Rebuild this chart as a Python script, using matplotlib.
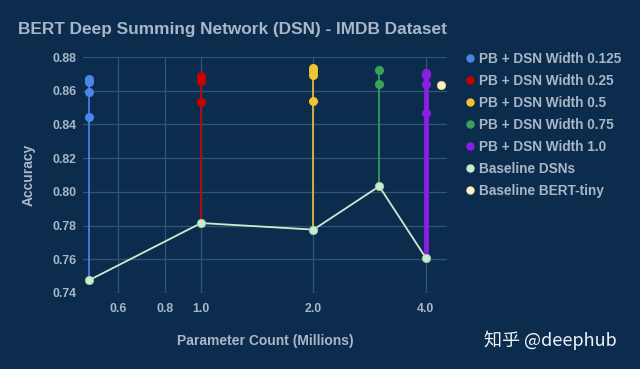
import matplotlib
matplotlib.use("Agg")
import matplotlib.pyplot as plt
from matplotlib.lines import Line2D

# ---- data ----
series_names = ["PB + DSN Width 0.125", "PB + DSN Width 0.25", "PB + DSN Width 0.5",
                "PB + DSN Width 0.75", "PB + DSN Width 1.0"]
series_params = [0.5, 1.0, 2.0, 3.0, 4.0]
pb_acc = [
    [0.8671, 0.8661, 0.8649, 0.8594, 0.8444],
    [0.8689, 0.8675, 0.8655, 0.8531],
    [0.8733, 0.8715, 0.8695, 0.8541],
    [0.8720, 0.8642],
    [0.8705, 0.8691, 0.8640, 0.8465],
]
baseline_params = [0.5, 1.0, 2.0, 3.0, 4.0]
baseline_acc = [0.7475, 0.7815, 0.7776, 0.8033, 0.7608]
bert_tiny_param = [4.4]
bert_tiny_acc = [0.8632]
x_ticks = [0.6, 0.8, 1.0, 2.0, 4.0]
x_tick_labels = ["0.6", "0.8", "1.0", "2.0", "4.0"]
y_ticks = [0.74, 0.76, 0.78, 0.80, 0.82, 0.84, 0.86, 0.88]

colors = ["#4a86e8", "#cc0000", "#f1c232", "#3aa35a", "#8a1ee6"]
line_widths = [1.2, 1.2, 1.2, 1.2, 3.5]
base_color = "#c9ecd0"
tiny_color = "#fdf0c4"
bg = "#0c2c4d"
text_c = "#a8b7c8"
grid_c = "#2f5575"

plt.rcParams['font.family'] = ['Liberation Sans', 'DejaVu Sans']

fig = plt.figure(figsize=(6.4, 3.69), dpi=100, facecolor=bg)
ax = fig.add_axes([0.130, 0.206, 0.568, 0.6395])
ax.set_facecolor(bg)
ax.set_xscale('log')
ax.set_xlim(0.483, 4.55)
ax.set_ylim(0.74, 0.88)

for s in ax.spines.values():
    s.set_visible(False)

ax.set_xticks(x_ticks)
ax.set_xticklabels(x_tick_labels)
ax.xaxis.set_minor_locator(matplotlib.ticker.NullLocator())
ax.set_yticks(y_ticks)
ax.set_yticklabels([f"{v:.2f}" for v in y_ticks])
ax.tick_params(axis='both', length=0, colors=text_c, labelsize=8.8)
ax.tick_params(axis='x', pad=7)
ax.tick_params(axis='y', pad=5)
for lbl in ax.get_xticklabels() + ax.get_yticklabels():
    lbl.set_fontweight('bold')
ax.grid(True, color=grid_c, linewidth=0.9)
ax.set_axisbelow(True)

# series: vertical line from baseline to points
for name, xp, accs, c, lw, b in zip(series_names, series_params, pb_acc, colors, line_widths, baseline_acc):
    ax.plot([xp, xp], [b, max(accs)], color=c, lw=lw, zorder=3)
    ax.plot([xp] * len(accs), accs, 'o', color=c, ms=5.5, zorder=4)

ax.plot(baseline_params, baseline_acc, '-', color=base_color, lw=1.3, zorder=5)
ax.plot(baseline_params, baseline_acc, 'o', color=base_color, ms=6, mec="#9fc7a8", mew=0.6, zorder=6)
ax.plot(bert_tiny_param, bert_tiny_acc, 'o', color=tiny_color, ms=6, mec="#d8c99a", mew=0.6, zorder=6, clip_on=False)

ax.set_xlabel("Parameter Count (Millions)", color=text_c, fontsize=10, fontweight='bold', labelpad=14)
ax.set_ylabel("Accuracy", color=text_c, fontsize=10, fontweight='bold', labelpad=12)

fig.text(0.028, 0.92, "BERT Deep Summing Network (DSN) - IMDB Dataset", color=text_c,
         fontsize=12.4, fontweight='bold', ha='left', va='center')

handles = [Line2D([], [], marker='o', ls='', color=c, ms=5) for c in colors]
handles += [Line2D([], [], marker='o', ls='', color=base_color, ms=5),
            Line2D([], [], marker='o', ls='', color=tiny_color, ms=5)]
labels = series_names + ["Baseline DSNs", "Baseline BERT-tiny"]
leg = fig.legend(handles, labels, loc='upper left', bbox_to_anchor=(0.715, 0.874),
                 frameon=False, handletextpad=0.15, handlelength=1.0,
                 labelspacing=0.585, borderaxespad=0, prop={'size': 9.8, 'weight': 'bold'})
for t in leg.get_texts():
    t.set_color(text_c)

fig.text(0.757, 0.078, "知乎 @deephub", color="#eef2f6", fontsize=13,
         family=['Noto Sans CJK SC', 'DejaVu Sans'], ha='left', va='center')

fig.savefig("out.png", dpi=100, facecolor=bg)
